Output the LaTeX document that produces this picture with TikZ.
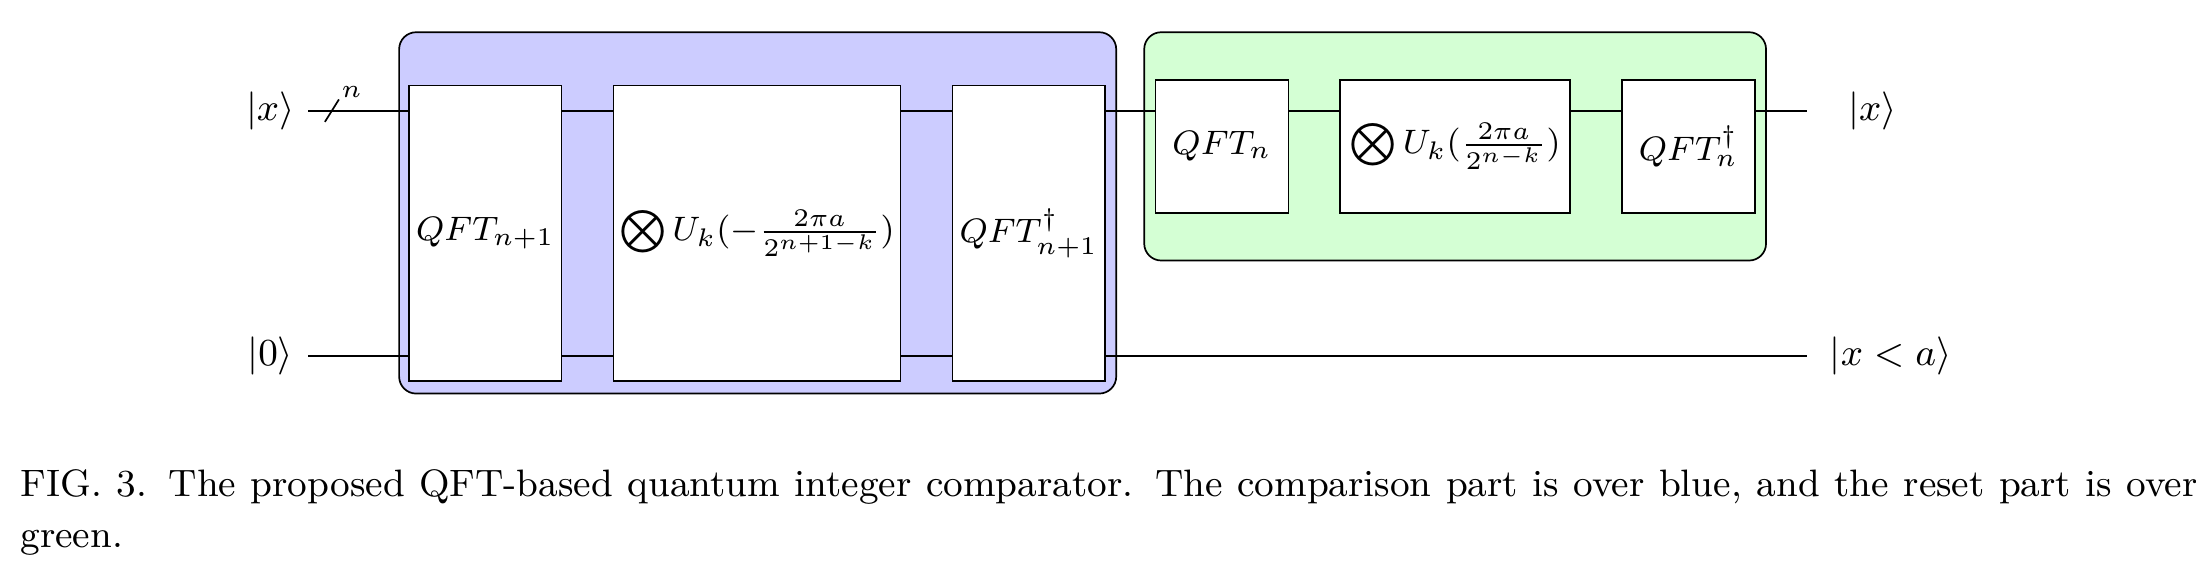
\documentclass[tikz,border=0pt]{standalone}
\begin{document}
\begin{tikzpicture}[x=0.33pt,y=-0.33pt,
  gate/.style={draw,fill=white,line width=0.4pt,inner sep=0pt,font=\footnotesize},
  wire/.style={line width=0.4pt},
  lbl/.style={inner sep=0pt,font=\small}]
\useasboundingbox (0,0) rectangle (1568,401);
\fill[blue!20,draw=black,rounded corners=4pt,line width=0.4pt] (285,23) rectangle (797,281);
\fill[green!17,draw=black,rounded corners=4pt,line width=0.4pt] (817,23) rectangle (1261,186);
\node[lbl] (x0) at (193,79) {$|x\rangle$};
\node[lbl] (z0) at (193,254) {$|0\rangle$};
\coordinate (xs) at (220,79);
\coordinate (zs) at (220,254);
\coordinate (xe) at (1290,79);
\coordinate (ze) at (1290,254);
\node[lbl] (x1) at (1337,79) {$|x\rangle$};
\node[lbl] (z1) at (1350,254) {$|x<a\rangle$};
\draw[wire] (xs) -- (xe);
\draw[wire] (zs) -- (ze);
\coordinate (sl1) at (232,87); \coordinate (sl2) at (242,71);
\draw[wire] (sl1) -- (sl2);
\node[lbl] (nl) at (251,66) {$\scriptstyle n$};
\node[gate,minimum width=109*0.33pt,minimum height=211*0.33pt] (g1) at (346.5,166.5) {$QFT_{n+1}$};
\node[gate,minimum width=205*0.33pt,minimum height=211*0.33pt] (g2) at (540.5,166.5) {$\bigotimes U_k(-\frac{2\pi a}{2^{n+1-k}})$};
\node[gate,minimum width=109*0.33pt,minimum height=211*0.33pt] (g3) at (734.5,166.5) {$QFT^\dagger_{n+1}$};
\node[gate,minimum width=95*0.33pt,minimum height=95*0.33pt] (h1) at (872.5,104.5) {$QFT_{n}$};
\node[gate,minimum width=164*0.33pt,minimum height=95*0.33pt] (h2) at (1039,104.5) {$\bigotimes U_k(\frac{2\pi a}{2^{n-k}})$};
\node[gate,minimum width=95*0.33pt,minimum height=95*0.33pt] (h3) at (1205.5,104.5) {$QFT^\dagger_{n}$};
\node[inner sep=0pt,anchor=north west,text width=513pt,align=justify] (cap) at (14,335) {\small FIG. 3. The proposed QFT-based quantum integer comparator. The comparison part is over blue, and the reset part is over green.};
\end{tikzpicture}
\end{document}
